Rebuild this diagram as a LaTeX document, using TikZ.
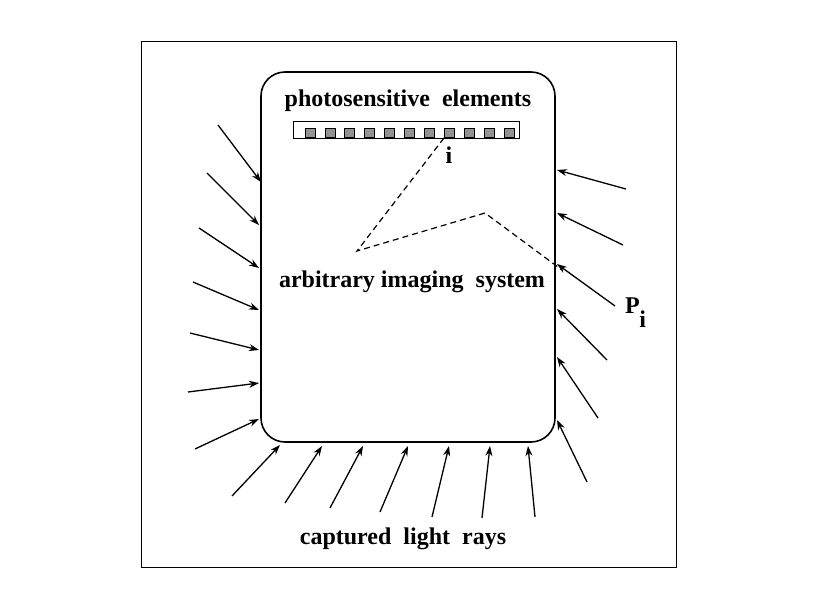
\documentclass[tikz,border=0pt]{standalone}
\usepackage{fontspec}
\setmainfont{Liberation Serif}
\usetikzlibrary{arrows.meta}
\begin{document}
\begin{tikzpicture}[x=1pt,y=-1pt,
 ray/.style={-{Stealth[length=10pt,width=7pt]},line width=1.3pt},
 lbl/.style={font=\fontsize{24}{28}\selectfont\bfseries,inner sep=0pt},
 cell/.style={draw,fill=gray!85,line width=0.8pt}]
\useasboundingbox (0,0) rectangle (820,608);
\fill[white] (0,0) rectangle (820,608);
\draw[line width=1pt] (141,41) rectangle (676,567);
\draw[line width=1.6pt,rounded corners=24pt] (261,72) rectangle (555,442);
\node[lbl] (pe) at (408,101) {photosensitive\ \ elements};
\draw[line width=1pt] (293,121) rectangle (519,138);
\foreach \i in {0,...,10}{\draw[cell] ({305+19.9*\i},128) rectangle ++(10,9);}
\coordinate (c) at (444,138);
\node[lbl] (i) at (449,155) {i};
\coordinate (d1) at (357,251);
\coordinate (d2) at (485,213);
\coordinate (d3) at (562,270);
\draw[line width=1.2pt,dash pattern=on 6pt off 4pt] (c)--(d1)--(d2)--(d3);
\node[lbl] (ais) at (412,282) {arbitrary imaging\ \ system};
\node[lbl,anchor=west] (p) at (625,306) {P};
\node[lbl,anchor=north west,xshift=-1pt,yshift=3pt] (pi) at (p.south east) {i};
\node[lbl] (clr) at (403,539) {captured\ \ light\ \ rays};
\foreach \a/\b/\c/\d in {
218/125/261/182, 207/173/259/225, 199/228/259/268, 193/282/259/310,
190/333/259/350, 188/392/259/383, 195/449/259/419,
232/496/280/445, 285/503/322/446, 330/508/363/446, 380/512/408/446,
432/517/449/446, 482/518/490/446, 535/517/528/446,
626/189/557/170, 623/245/557/213, 615/306/557/264, 607/360/557/309,
598/418/557/357, 587/482/557/420}
{\draw[ray] (\a,\b) -- (\c,\d);}
\end{tikzpicture}
\end{document}
